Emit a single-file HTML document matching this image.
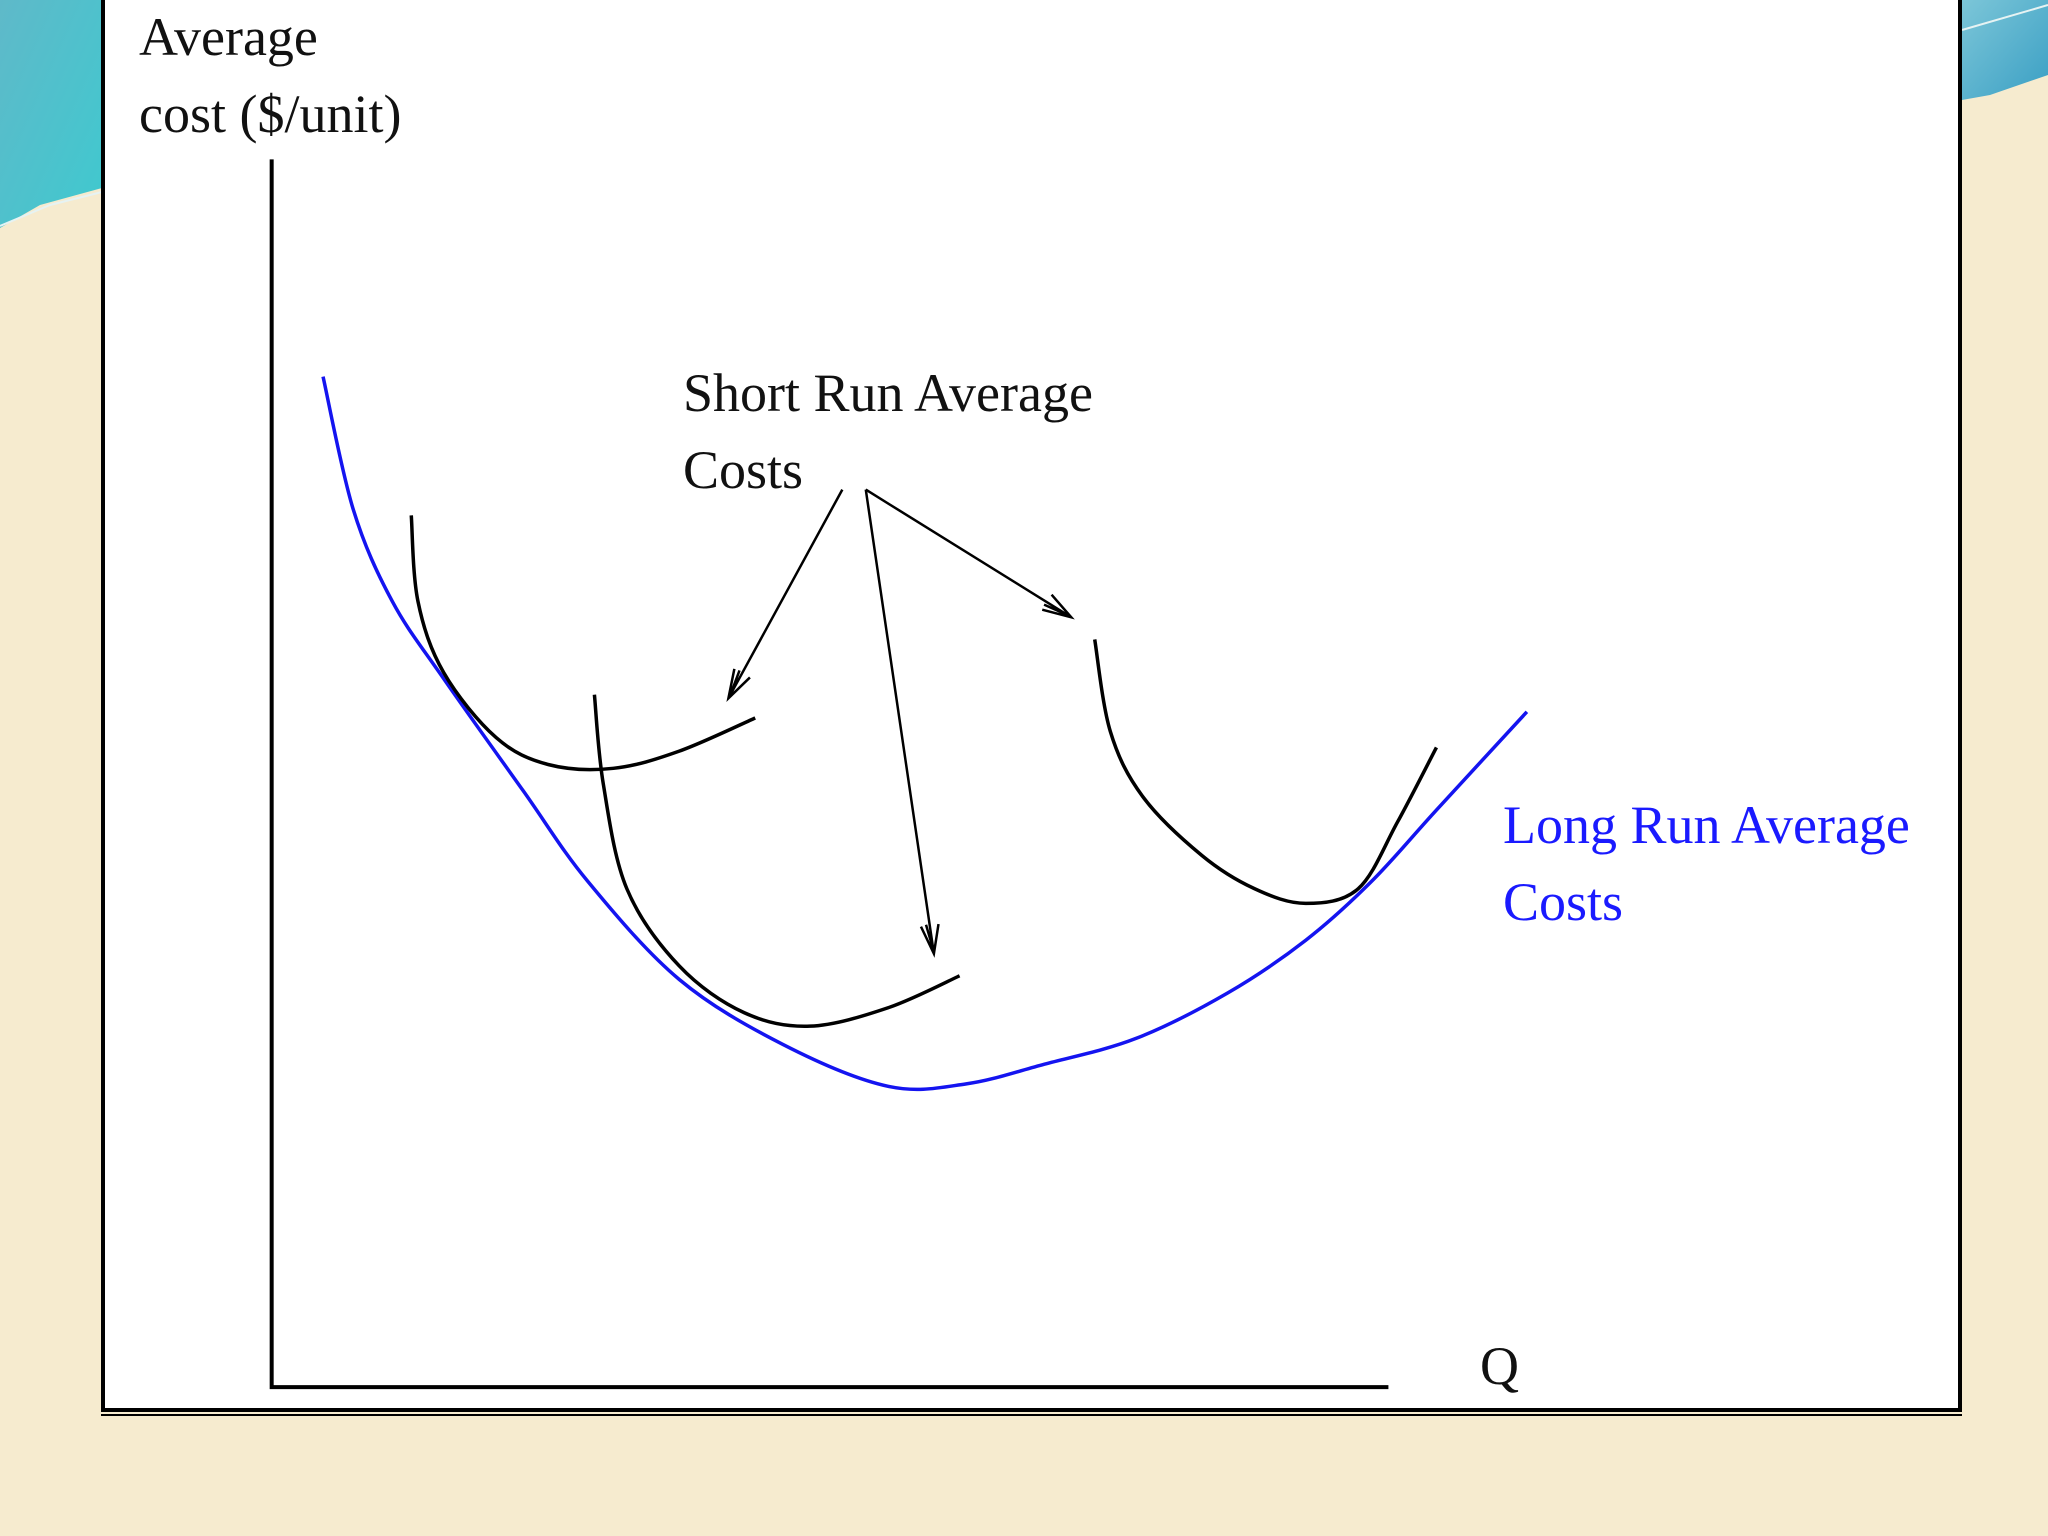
<!DOCTYPE html>
<html><head><meta charset="utf-8"><style>
html,body{margin:0;padding:0;width:2048px;height:1536px;overflow:hidden;background:#f6ebcf;}
svg{display:block}
text{font-family:"Liberation Serif",serif;}
</style></head><body>
<svg id="chart" width="2048" height="1536" viewBox="0 0 2048 1536">
<defs>
<linearGradient id="tl" x1="0" y1="0" x2="1" y2="1"><stop offset="0" stop-color="#5fb9c9"/><stop offset="1" stop-color="#3fc9cf"/></linearGradient>
<linearGradient id="tr" x1="0" y1="0" x2="1" y2="1"><stop offset="0" stop-color="#7cc6d8"/><stop offset="1" stop-color="#3a9fc4"/></linearGradient>
</defs>
<polygon points="0,0 102,0 102,188 40,205 0,228" fill="url(#tl)"/>
<polyline points="0,226 50,205 102,192" fill="none" stroke="#e6f3f3" stroke-width="2"/>
<polygon points="1962,0 2048,0 2048,75 1990,95 1962,100" fill="url(#tr)"/>
<polyline points="1962,30 2048,5" fill="none" stroke="#e6f3f3" stroke-width="2"/>
<rect x="103" y="-4" width="1857" height="1414" fill="#fff" stroke="#000" stroke-width="4"/>
<line x1="101" y1="1415" x2="1962" y2="1415" stroke="#000" stroke-width="2"/>
<text x="139" y="55" font-size="54" fill="#111">Average</text>
<text x="139" y="132" font-size="54" fill="#111">cost ($/unit)</text>
<text x="1480" y="1384" font-size="54" fill="#111">Q</text>
<text x="683" y="411" font-size="54" fill="#111">Short Run Average</text>
<text x="683" y="488" font-size="54" fill="#111">Costs</text>
<text x="1503" y="843" font-size="54" fill="#1a1aff">Long Run Average</text>
<text x="1503" y="920" font-size="54" fill="#1a1aff">Costs</text>
<g id="marks"></g>
</svg>
<script>
const lracQ=[4.6,7.3,10.8,15.4,22.5,28.3,36.5,45.8,55.2,62.2,69.2,77.4,85.6,92.6,98.5,104.3,112.4];
const lracC=[82.3,71.5,64.0,57.7,48.6,41.2,33.2,27.9,24.5,24.7,26.3,28.4,32.1,36.4,41.2,47.0,55.0];
const srac1Q=[12.5,13.1,15.4,20.1,24.8,30.6,36.5,43.3];
const srac1C=[71.0,64.0,58.2,52.9,50.7,50.4,51.8,54.5];
const srac2Q=[28.9,29.7,31.8,36.5,42.3,48.2,55.2,61.6];
const srac2C=[56.4,49.1,40.6,34.3,30.5,29.4,30.9,33.5];
const srac3Q=[73.7,75.1,78.0,83.3,88.0,92.6,97.3,100.8,104.3];
const srac3C=[60.9,53.4,48.1,43.3,40.6,39.4,40.6,46.0,52.1];
const arrowFromQ=[51.1,53.2,53.2];
const arrowFromC=[73.1,73.1,73.1];
const arrowToQ=[40.9,59.3,71.6];
const arrowToC=[56.1,35.3,62.7];

const S=2048/1568;
function xs(q){return (208+q*8.55)*S;}
function ys(c){return (1062-c*9.4)*S;}
const NS='http://www.w3.org/2000/svg';
const g=document.getElementById('marks');
function smooth(pts){
  let d='M'+pts[0][0]+','+pts[0][1];
  for(let i=0;i<pts.length-1;i++){
    const p0=pts[Math.max(0,i-1)],p1=pts[i],p2=pts[i+1],p3=pts[Math.min(pts.length-1,i+2)];
    const c1=[p1[0]+(p2[0]-p0[0])/6,p1[1]+(p2[1]-p0[1])/6];
    const c2=[p2[0]-(p3[0]-p1[0])/6,p2[1]-(p3[1]-p1[1])/6];
    d+=' C'+c1+' '+c2+' '+p2;
  }
  return d;
}
function curve(Q,C,color,w,name){
  const p=document.createElementNS(NS,'path');
  p.setAttribute('d',smooth(Q.map((q,i)=>[xs(q),ys(C[i])])));
  p.setAttribute('fill','none');p.setAttribute('stroke',color);p.setAttribute('stroke-width',w);
  
  
  g.appendChild(p);
}
const ax=document.createElementNS(NS,'polyline');
ax.setAttribute('points',xs(0)+','+ys(100)+' '+xs(0)+','+ys(0)+' '+xs(100)+','+ys(0));
ax.setAttribute('fill','none');ax.setAttribute('stroke','#000');ax.setAttribute('stroke-width','4');


g.appendChild(ax);
curve(lracQ,lracC,'#1414f0',3.5,'lrac-curve');
curve(srac1Q,srac1C,'#000',3.5,'srac-curve-1');
curve(srac2Q,srac2C,'#000',3.5,'srac-curve-2');
curve(srac3Q,srac3C,'#000',3.5,'srac-curve-3');
for(let i=0;i<arrowToQ.length;i++){
  const x1=xs(arrowFromQ[i]),y1=ys(arrowFromC[i]),x2=xs(arrowToQ[i]),y2=ys(arrowToC[i]);
  const a=Math.atan2(y2-y1,x2-x1),L=30,sp=0.3;
  const d='M'+x1+','+y1+' L'+x2+','+y2+
    ' M'+(x2-L*Math.cos(a-sp))+','+(y2-L*Math.sin(a-sp))+' L'+x2+','+y2+' L'+(x2-L*Math.cos(a+sp))+','+(y2-L*Math.sin(a+sp))+
    ' M'+(x2-L*Math.cos(a-0.12))+','+(y2-L*Math.sin(a-0.12))+' L'+(x2-4*Math.cos(a))+','+(y2-4*Math.sin(a));
  const p=document.createElementNS(NS,'path');
  p.setAttribute('d',d);p.setAttribute('fill','none');p.setAttribute('stroke','#000');p.setAttribute('stroke-width','2.5');
  
  
  g.appendChild(p);
}
</script>
</body></html>
